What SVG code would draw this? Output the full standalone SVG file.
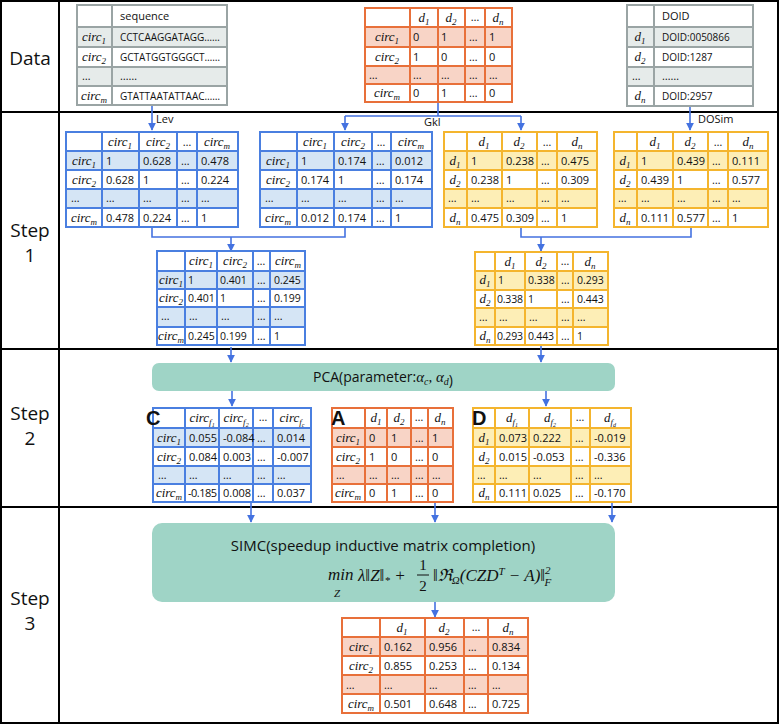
<svg xmlns="http://www.w3.org/2000/svg" width="779" height="725" viewBox="0 0 779 725">
<defs>
<marker id="ar" viewBox="0 0 10 10" refX="9" refY="5" markerWidth="5" markerHeight="5" orient="auto"><path d="M0,0L10,5L0,10z" fill="#4472e0"/></marker>
</defs>
<style>
text{font-family:"Open Sans","Liberation Sans",sans-serif;font-size:11px;fill:#111}
.m{font-family:"Liberation Serif",serif;font-style:italic;font-size:13px}
.s{font-size:9px}
.c{text-anchor:middle}
.lab{font-size:19px;text-anchor:middle}
.big{font-family:"Liberation Sans",sans-serif;font-weight:bold;font-size:20px}
.gb{fill:#fff;stroke:#9aa4a4;stroke-width:2}.gf{fill:#e6ebea}
.ob{fill:#fff;stroke:#e8703a;stroke-width:2}.of{fill:#f8d4c6}
.bb{fill:#fff;stroke:#4a7fe0;stroke-width:2}.bf{fill:#d5e5f5}
.yb{fill:#fff;stroke:#f4b52e;stroke-width:2}.yf{fill:#fdeeb6}
.gl{fill:none;stroke:#9aa4a4;stroke-width:2}.ol{fill:none;stroke:#e8703a;stroke-width:2}
.bl{fill:none;stroke:#4a7fe0;stroke-width:2}.yl{fill:none;stroke:#f4b52e;stroke-width:2}
.cn{fill:none;stroke:#4472e0;stroke-width:1.6}
.ar{marker-end:url(#ar)}
.box{fill:#9fd4c6}
.sq{font-size:10px}
.n{font-size:10.5px}
</style>
<g id="frame" fill="none" stroke="#000" stroke-width="2">
<rect x="1" y="1" width="777" height="722"/>
<path d="M1,112H778M1,349H778M1,507H778M59,1V723"/>
</g>
<g id="labels">
<text class="lab" x="30" y="65">Data</text>
<text class="lab" x="30" y="237">Step</text><text class="lab" x="30" y="262">1</text>
<text class="lab" x="30" y="420">Step</text><text class="lab" x="30" y="445">2</text>
<text class="lab" x="30" y="605">Step</text><text class="lab" x="30" y="630">3</text>
</g>
<g id="connectors">
<path class="cn ar" d="M152,105V130"/>
<path class="cn" d="M438,102V116M345,116H521"/>
<path class="cn ar" d="M345,116V130"/><path class="cn ar" d="M521,116V130"/>
<path class="cn ar" d="M690,106V130"/>
<path class="cn" d="M152,227V237H345V227"/><path class="cn ar" d="M231,237V251"/>
<path class="cn" d="M521,227V237H691V227"/><path class="cn ar" d="M541,237V251"/>
<path class="cn ar" d="M231,347V362"/><path class="cn ar" d="M541,345V362"/>
<path class="cn ar" d="M232,391V406"/><path class="cn ar" d="M546,391V406"/>
<path class="cn ar" d="M251,502V522"/><path class="cn ar" d="M435,502V522"/><path class="cn ar" d="M612,502V522"/>
<path class="cn ar" d="M435,602V617"/>
<text x="156" y="123">Lev</text><text x="424" y="126">Gkl</text><text x="698" y="123">DOSim</text>
</g>
<g id="seq">
<rect class="gb" x="77" y="5" width="150" height="100"/>
<rect class="gf" x="78" y="28" width="148" height="19"/><rect class="gf" x="78" y="68" width="148" height="18"/>
<path class="gl" d="M77,27H227M77,47H227M77,67H227M77,86H227M112,5V105"/>
<text x="120" y="20">sequence</text>
<text class="m c" x="94" y="41">circ<tspan class="s" dy="3">1</tspan></text><text class="sq" x="120" y="41">CCTCAAGGATAGG……</text>
<text class="m c" x="94" y="61">circ<tspan class="s" dy="3">2</tspan></text><text class="sq" x="120" y="61">GCTATGGTGGGCT……</text>
<text x="82" y="80">…</text><text x="120" y="80">……</text>
<text class="m c" x="94" y="100">circ<tspan class="s" dy="3">m</tspan></text><text class="sq" x="120" y="100">GTATTAATATTAAC……</text>
</g>
<g id="assoc">
<rect class="ob" x="365" y="8" width="147" height="94"/>
<rect class="of" x="366" y="28" width="145" height="19"/><rect class="of" x="366" y="67" width="145" height="17"/>
<path class="ol" d="M365,27H512M365,47H512M365,66H512M365,84H512M410,8V102M438,8V102M465,8V102M485,8V102"/>
<text class="m c" x="424" y="22">d<tspan class="s" dy="3">1</tspan></text><text class="m c" x="451" y="22">d<tspan class="s" dy="3">2</tspan></text><text class="c" x="475" y="21">…</text><text class="m c" x="498" y="22">d<tspan class="s" dy="3">n</tspan></text>
<text class="m c" x="387" y="41">circ<tspan class="s" dy="3">1</tspan></text><text x="413" y="41">0</text><text x="441" y="41">1</text><text x="469" y="41">…</text><text x="489" y="41">1</text>
<text class="m c" x="387" y="61">circ<tspan class="s" dy="3">2</tspan></text><text x="413" y="61">1</text><text x="441" y="61">0</text><text x="469" y="61">…</text><text x="489" y="61">0</text>
<text x="369" y="79">…</text><text x="413" y="79">…</text><text x="441" y="79">…</text><text x="469" y="79">…</text><text x="489" y="79">…</text>
<text class="m c" x="387" y="97">circ<tspan class="s" dy="3">m</tspan></text><text x="413" y="97">0</text><text x="441" y="97">1</text><text x="469" y="97">…</text><text x="489" y="97">0</text>
</g>
<g id="doid">
<rect class="gb" x="627" y="5" width="126" height="101"/>
<rect class="gf" x="628" y="28" width="124" height="19"/><rect class="gf" x="628" y="68" width="124" height="18"/>
<path class="gl" d="M627,27H753M627,47H753M627,67H753M627,86H753M654,5V106"/>
<text x="662" y="20">DOID</text>
<text class="m c" x="640" y="41">d<tspan class="s" dy="3">1</tspan></text><text class="sq" x="662" y="41">DOID:0050866</text>
<text class="m c" x="640" y="61">d<tspan class="s" dy="3">2</tspan></text><text class="sq" x="662" y="61">DOID:1287</text>
<text x="632" y="80">…</text><text x="662" y="80">……</text>
<text class="m c" x="640" y="100">d<tspan class="s" dy="3">n</tspan></text><text class="sq" x="662" y="100">DOID:2957</text>
</g>
<g id="lev">
<rect class="bb" x="66" y="132" width="172" height="95"/>
<rect class="bf" x="67" y="152" width="170" height="18"/><rect class="bf" x="67" y="190" width="170" height="18"/>
<path class="bl" d="M66,151H238M66,170H238M66,189H238M66,208H238M102,132V227M139,132V227M177,132V227M197,132V227"/>
<text class="m c" x="120" y="146">circ<tspan class="s" dy="3">1</tspan></text><text class="m c" x="158" y="146">circ<tspan class="s" dy="3">2</tspan></text><text class="c" x="187" y="146">…</text><text class="m c" x="217" y="146">circ<tspan class="s" dy="3">m</tspan></text>
<text class="m c" x="84" y="165">circ<tspan class="s" dy="3">1</tspan></text><text x="106" y="165">1</text><text x="143" y="165">0.628</text><text x="181" y="165">…</text><text x="201" y="165">0.478</text>
<text class="m c" x="84" y="184">circ<tspan class="s" dy="3">2</tspan></text><text x="106" y="184">0.628</text><text x="143" y="184">1</text><text x="181" y="184">…</text><text x="201" y="184">0.224</text>
<text x="71" y="202">…</text><text x="106" y="202">…</text><text x="143" y="202">…</text><text x="181" y="202">…</text><text x="201" y="202">…</text>
<text class="m c" x="84" y="222">circ<tspan class="s" dy="3">m</tspan></text><text x="106" y="222">0.478</text><text x="143" y="222">0.224</text><text x="181" y="222">…</text><text x="201" y="222">1</text>
</g>
<g id="gklc">
<rect class="bb" x="260" y="132" width="172" height="95"/>
<rect class="bf" x="261" y="152" width="170" height="18"/><rect class="bf" x="261" y="190" width="170" height="18"/>
<path class="bl" d="M260,151H432M260,170H432M260,189H432M260,208H432M297,132V227M334,132V227M372,132V227M391,132V227"/>
<text class="m c" x="315" y="146">circ<tspan class="s" dy="3">1</tspan></text><text class="m c" x="353" y="146">circ<tspan class="s" dy="3">2</tspan></text><text class="c" x="381" y="146">…</text><text class="m c" x="411" y="146">circ<tspan class="s" dy="3">m</tspan></text>
<text class="m c" x="278" y="165">circ<tspan class="s" dy="3">1</tspan></text><text x="301" y="165">1</text><text x="338" y="165">0.174</text><text x="376" y="165">…</text><text x="395" y="165">0.012</text>
<text class="m c" x="278" y="184">circ<tspan class="s" dy="3">2</tspan></text><text x="301" y="184">0.174</text><text x="338" y="184">1</text><text x="376" y="184">…</text><text x="395" y="184">0.174</text>
<text x="265" y="202">…</text><text x="301" y="202">…</text><text x="338" y="202">…</text><text x="376" y="202">…</text><text x="395" y="202">…</text>
<text class="m c" x="278" y="222">circ<tspan class="s" dy="3">m</tspan></text><text x="301" y="222">0.012</text><text x="338" y="222">0.174</text><text x="376" y="222">…</text><text x="395" y="222">1</text>
</g>
<g id="gkld">
<rect class="yb" x="444" y="132" width="153" height="95"/>
<rect class="yf" x="445" y="152" width="151" height="18"/><rect class="yf" x="445" y="190" width="151" height="18"/>
<path class="yl" d="M444,151H597M444,170H597M444,189H597M444,208H597M467,132V227M502,132V227M537,132V227M557,132V227"/>
<text class="m c" x="484" y="146">d<tspan class="s" dy="3">1</tspan></text><text class="m c" x="519" y="146">d<tspan class="s" dy="3">2</tspan></text><text class="c" x="547" y="146">…</text><text class="m c" x="577" y="146">d<tspan class="s" dy="3">n</tspan></text>
<text class="m c" x="455" y="165">d<tspan class="s" dy="3">1</tspan></text><text x="471" y="165">1</text><text x="506" y="165">0.238</text><text x="541" y="165">…</text><text x="561" y="165">0.475</text>
<text class="m c" x="455" y="184">d<tspan class="s" dy="3">2</tspan></text><text x="471" y="184">0.238</text><text x="506" y="184">1</text><text x="541" y="184">…</text><text x="561" y="184">0.309</text>
<text x="448" y="202">…</text><text x="471" y="202">…</text><text x="506" y="202">…</text><text x="541" y="202">…</text><text x="561" y="202">…</text>
<text class="m c" x="455" y="222">d<tspan class="s" dy="3">n</tspan></text><text x="471" y="222">0.475</text><text x="506" y="222">0.309</text><text x="541" y="222">…</text><text x="561" y="222">1</text>
</g>
<g id="dosim">
<rect class="yb" x="614" y="132" width="154" height="95"/>
<rect class="yf" x="615" y="152" width="152" height="18"/><rect class="yf" x="615" y="190" width="152" height="18"/>
<path class="yl" d="M614,151H768M614,170H768M614,189H768M614,208H768M637,132V227M673,132V227M708,132V227M728,132V227"/>
<text class="m c" x="655" y="146">d<tspan class="s" dy="3">1</tspan></text><text class="m c" x="690" y="146">d<tspan class="s" dy="3">2</tspan></text><text class="c" x="718" y="146">…</text><text class="m c" x="748" y="146">d<tspan class="s" dy="3">n</tspan></text>
<text class="m c" x="625" y="165">d<tspan class="s" dy="3">1</tspan></text><text x="641" y="165">1</text><text x="677" y="165">0.439</text><text x="712" y="165">…</text><text x="732" y="165">0.111</text>
<text class="m c" x="625" y="184">d<tspan class="s" dy="3">2</tspan></text><text x="641" y="184">0.439</text><text x="677" y="184">1</text><text x="712" y="184">…</text><text x="732" y="184">0.577</text>
<text x="618" y="202">…</text><text x="641" y="202">…</text><text x="677" y="202">…</text><text x="712" y="202">…</text><text x="732" y="202">…</text>
<text class="m c" x="625" y="222">d<tspan class="s" dy="3">n</tspan></text><text x="641" y="222">0.111</text><text x="677" y="222">0.577</text><text x="712" y="222">…</text><text x="732" y="222">1</text>
</g>
<g id="circsim">
<rect class="bb" x="157" y="251" width="148" height="94"/>
<rect class="bf" x="158" y="272" width="146" height="17"/><rect class="bf" x="158" y="308" width="146" height="19"/>
<path class="bl" d="M157,271H305M157,289H305M157,307H305M157,327H305M185,251V345M217,251V345M253,251V345M270,251V345"/>
<text class="m c" x="201" y="265">circ<tspan class="s" dy="3">1</tspan></text><text class="m c" x="235" y="265">circ<tspan class="s" dy="3">2</tspan></text><text class="c" x="261" y="265">…</text><text class="m c" x="288" y="265">circ<tspan class="s" dy="3">m</tspan></text>
<text class="m c" x="171" y="284">circ<tspan class="s" dy="3">1</tspan></text><text class="n" x="188" y="284">1</text><text class="n" x="220" y="284">0.401</text><text x="257" y="284">…</text><text class="n" x="274" y="284">0.245</text>
<text class="m c" x="171" y="302">circ<tspan class="s" dy="3">2</tspan></text><text class="n" x="188" y="302">0.401</text><text class="n" x="220" y="302">1</text><text x="257" y="302">…</text><text class="n" x="274" y="302">0.199</text>
<text x="161" y="320">…</text><text x="189" y="320">…</text><text x="221" y="320">…</text><text x="257" y="320">…</text><text x="274" y="320">…</text>
<text class="m c" x="171" y="340">circ<tspan class="s" dy="3">m</tspan></text><text class="n" x="188" y="340">0.245</text><text class="n" x="220" y="340">0.199</text><text x="257" y="340">…</text><text class="n" x="274" y="340">1</text>
</g>
<g id="dissim">
<rect class="yb" x="475" y="252" width="133" height="93"/>
<rect class="yf" x="476" y="272" width="131" height="17"/><rect class="yf" x="476" y="309" width="131" height="17"/>
<path class="yl" d="M475,271H608M475,290H608M475,308H608M475,327H608M495,252V345M525,252V345M557,252V345M573,252V345"/>
<text class="m c" x="510" y="266">d<tspan class="s" dy="3">1</tspan></text><text class="m c" x="541" y="266">d<tspan class="s" dy="3">2</tspan></text><text class="c" x="565" y="265">…</text><text class="m c" x="590" y="266">d<tspan class="s" dy="3">n</tspan></text>
<text class="m c" x="485" y="284">d<tspan class="s" dy="3">1</tspan></text><text class="n" x="498" y="284">1</text><text class="n" x="528" y="284">0.338</text><text x="561" y="284">…</text><text class="n" x="577" y="284">0.293</text>
<text class="m c" x="485" y="303">d<tspan class="s" dy="3">2</tspan></text><text class="n" x="497" y="303" textLength="26">0.338</text><text class="n" x="528" y="303">1</text><text x="561" y="303">…</text><text class="n" x="577" y="303">0.443</text>
<text x="479" y="321">…</text><text x="499" y="321">…</text><text x="529" y="321">…</text><text x="561" y="321">…</text><text x="577" y="321">…</text>
<text class="m c" x="485" y="340">d<tspan class="s" dy="3">n</tspan></text><text class="n" x="497" y="340" textLength="26">0.293</text><text class="n" x="528" y="340" textLength="26">0.443</text><text x="561" y="340">…</text><text class="n" x="577" y="340">1</text>
</g>
<g id="pca">
<rect class="box" x="152" y="363" width="463" height="28" rx="7"/>
<text x="383" y="382" class="c" style="font-size:14px">PCA(parameter:<tspan class="m" style="font-size:15px">α<tspan class="s" dy="3" style="font-size:10px">c</tspan><tspan dy="-3">, α</tspan><tspan class="s" dy="3" style="font-size:10px">d</tspan></tspan>)</text>
</g>
<g id="C">
<rect class="bb" x="153" y="408" width="158" height="94"/>
<rect class="bf" x="154" y="429" width="156" height="18"/><rect class="bf" x="154" y="467" width="156" height="17"/>
<path class="bl" d="M153,428H311M153,447H311M153,466H311M153,484H311M185,408V502M219,408V502M253,408V502M273,408V502"/>
<text class="m c" x="202" y="422">circ<tspan class="s" dy="3">f<tspan style="font-size:6px" dy="2">1</tspan></tspan></text><text class="m c" x="236" y="422">circ<tspan class="s" dy="3">f<tspan style="font-size:6px" dy="2">2</tspan></tspan></text><text class="c" x="263" y="421">…</text><text class="m c" x="292" y="422">circ<tspan class="s" dy="3">f<tspan style="font-size:6px" dy="2">c</tspan></tspan></text>
<text class="m c" x="169" y="442">circ<tspan class="s" dy="3">1</tspan></text><text x="189" y="442">0.055</text><text x="223" y="442">-0.084</text><text x="257" y="442">…</text><text x="277" y="442">0.014</text>
<text class="m c" x="169" y="461">circ<tspan class="s" dy="3">2</tspan></text><text x="189" y="461">0.084</text><text x="223" y="461">0.003</text><text x="257" y="461">…</text><text x="277" y="461">-0.007</text>
<text x="158" y="479">…</text><text x="189" y="479">…</text><text x="223" y="479">…</text><text x="257" y="479">…</text><text x="277" y="479">…</text>
<text class="m c" x="169" y="497">circ<tspan class="s" dy="3">m</tspan></text><text x="188" y="497" textLength="29">-0.185</text><text x="223" y="497">0.008</text><text x="257" y="497">…</text><text x="277" y="497">0.037</text>
<text class="big" x="146" y="425">C</text>
</g>
<g id="A">
<rect class="ob" x="332" y="408" width="121" height="94"/>
<rect class="of" x="333" y="429" width="119" height="18"/><rect class="of" x="333" y="467" width="119" height="17"/>
<path class="ol" d="M332,428H453M332,447H453M332,466H453M332,484H453M365,408V502M387,408V502M411,408V502M428,408V502"/>
<text class="m c" x="376" y="422">d<tspan class="s" dy="3">1</tspan></text><text class="m c" x="399" y="422">d<tspan class="s" dy="3">2</tspan></text><text class="c" x="419" y="421">…</text><text class="m c" x="440" y="422">d<tspan class="s" dy="3">n</tspan></text>
<text class="m c" x="348" y="442">circ<tspan class="s" dy="3">1</tspan></text><text x="369" y="442">0</text><text x="391" y="442">1</text><text x="415" y="442">…</text><text x="432" y="442">1</text>
<text class="m c" x="348" y="461">circ<tspan class="s" dy="3">2</tspan></text><text x="369" y="461">1</text><text x="391" y="461">0</text><text x="415" y="461">…</text><text x="432" y="461">0</text>
<text x="336" y="479">…</text><text x="369" y="479">…</text><text x="391" y="479">…</text><text x="415" y="479">…</text><text x="432" y="479">…</text>
<text class="m c" x="348" y="497">circ<tspan class="s" dy="3">m</tspan></text><text x="369" y="497">0</text><text x="391" y="497">1</text><text x="415" y="497">…</text><text x="432" y="497">0</text>
<text class="big" x="331" y="425">A</text>
</g>
<g id="D">
<rect class="yb" x="473" y="408" width="158" height="94"/>
<rect class="yf" x="474" y="429" width="156" height="18"/><rect class="yf" x="474" y="467" width="156" height="17"/>
<path class="yl" d="M473,428H631M473,447H631M473,466H631M473,484H631M495,408V502M529,408V502M571,408V502M590,408V502"/>
<text class="m c" x="512" y="422">d<tspan class="s" dy="3">f<tspan style="font-size:6px" dy="2">1</tspan></tspan></text><text class="m c" x="550" y="422">d<tspan class="s" dy="3">f<tspan style="font-size:6px" dy="2">2</tspan></tspan></text><text class="c" x="580" y="421">…</text><text class="m c" x="610" y="422">d<tspan class="s" dy="3">f<tspan style="font-size:6px" dy="2">d</tspan></tspan></text>
<text class="m c" x="484" y="442">d<tspan class="s" dy="3">1</tspan></text><text x="499" y="442">0.073</text><text x="533" y="442">0.222</text><text x="575" y="442">…</text><text x="594" y="442">-0.019</text>
<text class="m c" x="484" y="461">d<tspan class="s" dy="3">2</tspan></text><text x="499" y="461">0.015</text><text x="533" y="461">-0.053</text><text x="575" y="461">…</text><text x="594" y="461">-0.336</text>
<text x="477" y="479">…</text><text x="499" y="479">…</text><text x="533" y="479">…</text><text x="575" y="479">…</text><text x="594" y="479">…</text>
<text class="m c" x="484" y="497">d<tspan class="s" dy="3">n</tspan></text><text x="499" y="497">0.111</text><text x="533" y="497">0.025</text><text x="575" y="497">…</text><text x="594" y="497">-0.170</text>
<text class="big" x="472" y="425">D</text>
</g>
<g id="simc">
<rect class="box" x="152" y="523" width="463" height="79" rx="10"/>
<text x="383" y="551" class="c" style="font-size:15px">SIMC(speedup inductive matrix completion)</text>
<text class="m" x="328" y="580" style="font-size:17px">min</text>
<text class="m" x="334" y="597" style="font-size:11px">Z</text>
<text class="m" x="358" y="581" style="font-size:17px">λ‖Z‖<tspan dy="3" style="font-size:11px">*</tspan><tspan dy="-3"> +</tspan></text>
<text x="423" y="570" class="c" style="font-family:'Liberation Serif',serif;font-size:15px">1</text>
<path d="M417,575H429" stroke="#111" stroke-width="1"/>
<text x="423" y="591" class="c" style="font-family:'Liberation Serif',serif;font-size:15px">2</text>
<text class="m" x="433" y="581" style="font-size:17px">‖ℜ<tspan dy="3" style="font-size:11px">Ω</tspan><tspan dy="-3">(CZD</tspan><tspan dy="-6" style="font-size:11px">T</tspan><tspan dy="6"> − A)‖</tspan><tspan dy="-7" style="font-size:11px">2</tspan><tspan dx="-6" dy="12" style="font-size:11px">F</tspan></text>
</g>
<g id="result">
<rect class="ob" x="342" y="618" width="186" height="95"/>
<rect class="of" x="343" y="638" width="184" height="18"/><rect class="of" x="343" y="676" width="184" height="18"/>
<path class="ol" d="M342,637H528M342,656H528M342,675H528M342,694H528M380,618V713M425,618V713M464,618V713M488,618V713"/>
<text class="m c" x="402" y="632">d<tspan class="s" dy="3">1</tspan></text><text class="m c" x="444" y="632">d<tspan class="s" dy="3">2</tspan></text><text class="c" x="476" y="631">…</text><text class="m c" x="508" y="632">d<tspan class="s" dy="3">n</tspan></text>
<text class="m c" x="361" y="651">circ<tspan class="s" dy="3">1</tspan></text><text x="384" y="651">0.162</text><text x="429" y="651">0.956</text><text x="468" y="651">…</text><text x="492" y="651">0.834</text>
<text class="m c" x="361" y="670">circ<tspan class="s" dy="3">2</tspan></text><text x="384" y="670">0.855</text><text x="429" y="670">0.253</text><text x="468" y="670">…</text><text x="492" y="670">0.134</text>
<text x="346" y="689">…</text><text x="384" y="689">…</text><text x="429" y="689">…</text><text x="468" y="689">…</text><text x="492" y="689">…</text>
<text class="m c" x="361" y="708">circ<tspan class="s" dy="3">m</tspan></text><text x="384" y="708">0.501</text><text x="429" y="708">0.648</text><text x="468" y="708">…</text><text x="492" y="708">0.725</text>
</g>
</svg>
